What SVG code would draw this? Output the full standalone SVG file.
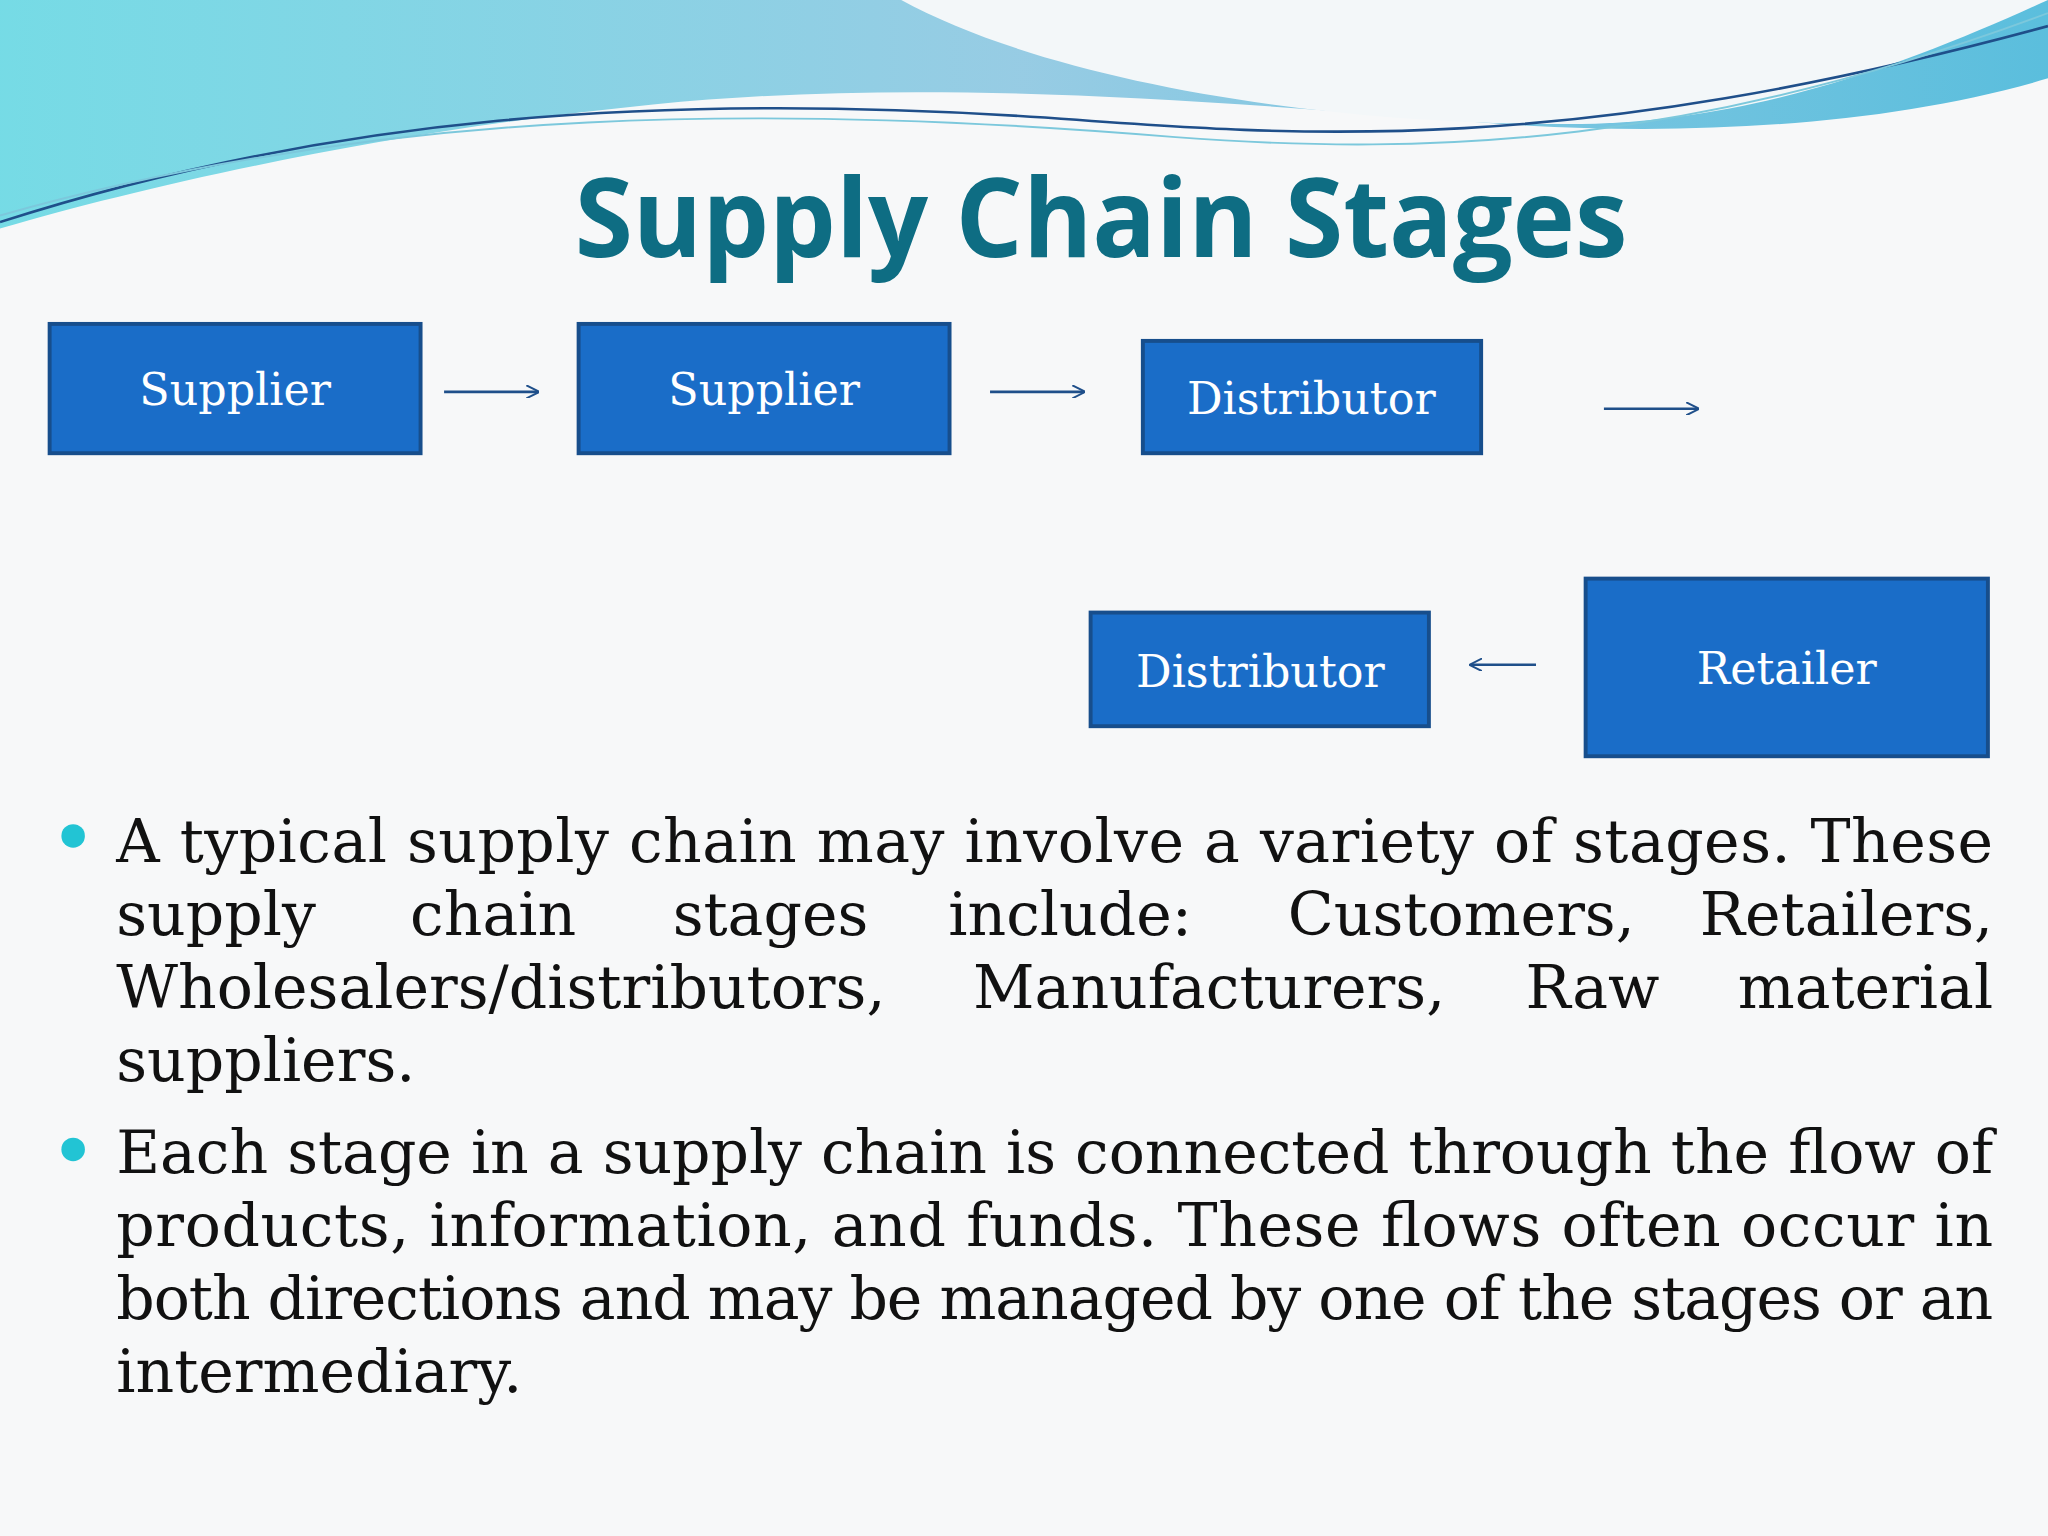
<svg xmlns="http://www.w3.org/2000/svg" width="2048" height="1536" viewBox="0 0 2048 1536">
<defs>
<style>
.box{fill:#1a6dc8;stroke:#174e8c;stroke-width:3}
.lbl{font-family:"DejaVu Serif","Liberation Serif",serif;font-size:34px;fill:#fff;text-anchor:middle}
.body{font-family:"DejaVu Serif","Liberation Serif",serif;font-size:46px;fill:#111}
.end{text-anchor:end}
.con{stroke:#1f4f8a;stroke-width:2;fill:none}
</style>
<linearGradient id="wave" x1="0" y1="0" x2="1" y2="0">
<stop offset="0" stop-color="#5fd6e2"/><stop offset="0.5" stop-color="#86c4e0"/><stop offset="1" stop-color="#3fb4d8"/>
</linearGradient>
<marker id="ah" viewBox="0 0 10 10" refX="9" refY="5" markerWidth="10" markerHeight="10" markerUnits="userSpaceOnUse" orient="auto"><path d="M0,0 L10,5 L0,10" fill="none" stroke="#1f4f8a" stroke-width="1.5"/></marker>
</defs>
<rect width="2048" height="1536" fill="#f7f8f9"/>
<g transform="scale(1.30612)">
<g id="header">
<path d="M0,0 H1568 V60 C1450,95 1300,105 1150,95 C900,75 700,60 500,80 C300,100 120,140 0,175 Z" fill="url(#wave)" opacity="0.85"/>
<path d="M690,0 C800,60 1000,95 1200,95 C1350,95 1480,40 1568,0 Z" fill="#f3f7f9"/>
<path d="M0,170 C250,90 500,70 800,90 C1000,105 1200,120 1568,20" class="con" stroke="#3a9ab8" stroke-width="1.5"/>
<path d="M0,165 C300,80 600,80 900,105 C1100,120 1300,110 1568,10" fill="none" stroke="#7cc8dc" stroke-width="1.5"/>
</g>
<text x="843" y="197" font-family="Open Sans,Liberation Sans,sans-serif" font-weight="bold" font-size="84" fill="#0e6d83" text-anchor="middle" textLength="806" lengthAdjust="spacingAndGlyphs">Supply Chain Stages</text>
<g id="n1"><rect class="box" x="38" y="248" width="284" height="99"/><text class="lbl" x="180" y="310">Supplier</text></g>
<g id="n2"><rect class="box" x="443" y="248" width="284" height="99"/><text class="lbl" x="585" y="310">Supplier</text></g>
<g id="n3"><rect class="box" x="875" y="261" width="259" height="86"/><text class="lbl" x="1004" y="317">Distributor</text></g>
<g id="n4"><rect class="box" x="835" y="469" width="259" height="87"/><text class="lbl" x="965" y="526">Distributor</text></g>
<g id="n5"><rect class="box" x="1214" y="443" width="308" height="136"/><text class="lbl" x="1368" y="524">Retailer</text></g>
<g id="connectors">
<line class="con" x1="340" y1="300" x2="412" y2="300" marker-end="url(#ah)"/>
<line class="con" x1="758" y1="300" x2="830" y2="300" marker-end="url(#ah)"/>
<line class="con" x1="1228" y1="313" x2="1300" y2="313" marker-end="url(#ah)"/>
<line class="con" x1="1176" y1="509" x2="1126" y2="509" marker-end="url(#ah)"/>
</g>
<g id="text">
<circle cx="56" cy="640" r="9" fill="#22c4d4"/>
<circle cx="56" cy="880" r="9" fill="#22c4d4"/>
<text class="body" x="89" y="660" textLength="1437" lengthAdjust="spacing">A typical supply chain may involve a variety of stages. These</text>
<text class="body" y="716"><tspan x="89">supply</tspan><tspan x="314">chain</tspan><tspan x="515">stages</tspan><tspan x="726">include:</tspan><tspan x="986">Customers,</tspan></text>
<text class="body end" x="1526" y="716">Retailers,</text>
<text class="body" y="772"><tspan x="89">Wholesalers/distributors,</tspan><tspan x="745">Manufacturers,</tspan><tspan x="1168">Raw</tspan></text>
<text class="body end" x="1526" y="772">material</text>
<text class="body" x="89" y="828">suppliers.</text>
<text class="body" x="89" y="898" textLength="1437" lengthAdjust="spacing">Each stage in a supply chain is connected through the flow of</text>
<text class="body" x="89" y="954" textLength="1437" lengthAdjust="spacing">products, information, and funds. These flows often occur in</text>
<text class="body" x="89" y="1010" textLength="1437" lengthAdjust="spacing">both directions and may be managed by one of the stages or an</text>
<text class="body" x="89" y="1066">intermediary.</text>
</g>
</g>
</svg>
